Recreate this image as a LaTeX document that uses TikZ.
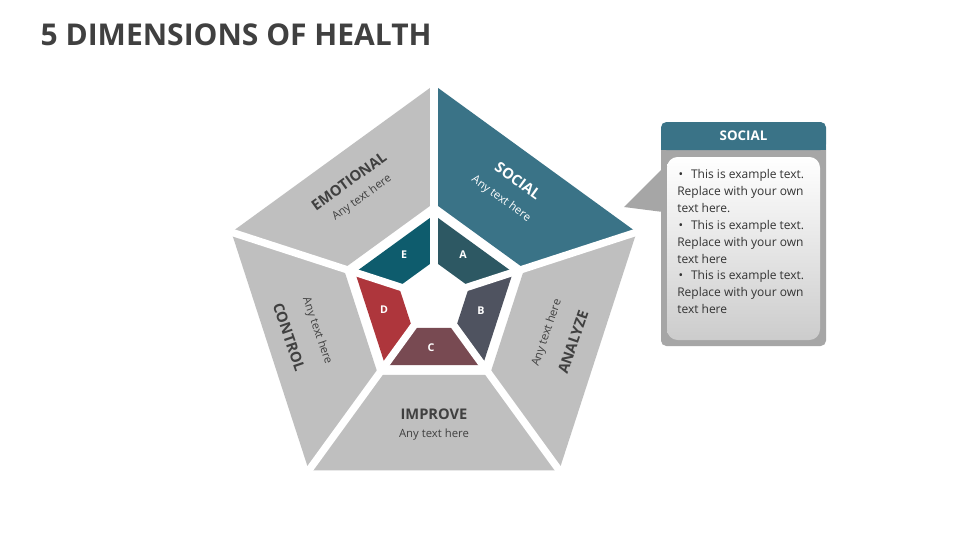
\documentclass[tikz,border=0pt]{standalone}
\usepackage{fontspec}
\setmainfont{Open Sans}
\usetikzlibrary{calc}
\begin{document}
\begin{tikzpicture}[x=0.75pt,y=-0.75pt,
  lbl/.style={font=\bfseries\fontsize{11}{13}\selectfont,text=black!75},
  sub/.style={font=\fontsize{8.5}{10}\selectfont,text=black!75},
  lblw/.style={font=\bfseries\fontsize{11}{13}\selectfont,text=white},
  subw/.style={font=\fontsize{8.5}{10}\selectfont,text=white},
  inl/.style={font=\bfseries\fontsize{8}{10}\selectfont,text=white}]
\definecolor{gr}{HTML}{BFBFBF}
\definecolor{soc}{HTML}{3A7387}
\definecolor{ca}{HTML}{2D5863}
\definecolor{cb}{HTML}{4F5360}
\definecolor{cc}{HTML}{784A52}
\definecolor{cd}{HTML}{AE363C}
\definecolor{ce}{HTML}{0E5C6D}
\useasboundingbox (0,0) rectangle (960,540);
\fill[white] (0,0) rectangle (960,540);
\node[anchor=west,font=\bfseries\fontsize{22.5}{26}\selectfont,text=black!75] (title) at (36,35) {5 DIMENSIONS OF HEALTH};
\coordinate (O) at (434,298);
% outer ring
\foreach \a/\c in {-90/soc,-18/gr,54/gr,126/gr,198/gr}{
  \fill[\c] ($(O)+(\a:213)$) -- ($(O)+(\a+72:213)$) -- ($(O)+(\a+72:95)$) -- ($(O)+(\a:95)$) -- cycle;
}
% inner ring
\foreach \a/\c in {-90/ca,-18/cb,54/cc,126/cd,198/ce}{
  \fill[\c] ($(O)+(\a:83)$) -- ($(O)+(\a+72:83)$) -- ($(O)+(\a+72:37)$) -- ($(O)+(\a:37)$) -- cycle;
}
\foreach \a in {-90,-18,54,126,198}{
  \draw[white,line width=5.5pt] (O) -- ($(O)+(\a:216)$);
}
% labels
\node[lblw,rotate=-36] (ls) at (518,181) {SOCIAL};
\node[subw,rotate=-36] (lss) at (501,199) {Any text here};
\node[lbl,rotate=36] (le) at (349,181) {EMOTIONAL};
\node[sub,rotate=36] (les) at (362,198) {Any text here};
\node[lbl,rotate=-71] (lc) at (289,337) {CONTROL};
\node[sub,rotate=-71] (lcs) at (317,331) {Any text here};
\node[lbl,rotate=71] (la) at (573,342) {ANALYZE};
\node[sub,rotate=71] (las) at (547,333) {Any text here};
\node[lbl] (li) at (434,414) {IMPROVE};
\node[sub] (lis) at (434,435) {Any text here};
\node[inl] (A) at (463,255) {A};
\node[inl] (B) at (481,311) {B};
\node[inl] (C) at (431,348) {C};
\node[inl] (D) at (384,310) {D};
\node[inl] (E) at (404,255) {E};
% callout
\fill[black!35] (663,168) -- (624,207) -- (663,212) -- cycle;
\fill[black!35,rounded corners=4pt] (661,140) rectangle (826,346);
\fill[soc,rounded corners=4pt] (661,122) rectangle (826,150);
\fill[soc] (661,140) rectangle (826,150);
\node[font=\bfseries\fontsize{10}{12}\selectfont,text=white] (ct) at (743.5,136) {SOCIAL};
\shade[top color=white,bottom color=black!20,rounded corners=8pt] (667,157) rectangle (820,340);
\node[anchor=north west,align=left,font=\fontsize{9}{12.7}\selectfont,text=black!80,inner sep=0pt] (cb) at (677,169)
{\hspace{1pt}•\hspace{6pt}This is example text.\\Replace with your own\\text here.\\
\hspace{1pt}•\hspace{6pt}This is example text.\\Replace with your own\\text here\\
\hspace{1pt}•\hspace{6pt}This is example text.\\Replace with your own\\text here};
\end{tikzpicture}
\end{document}
